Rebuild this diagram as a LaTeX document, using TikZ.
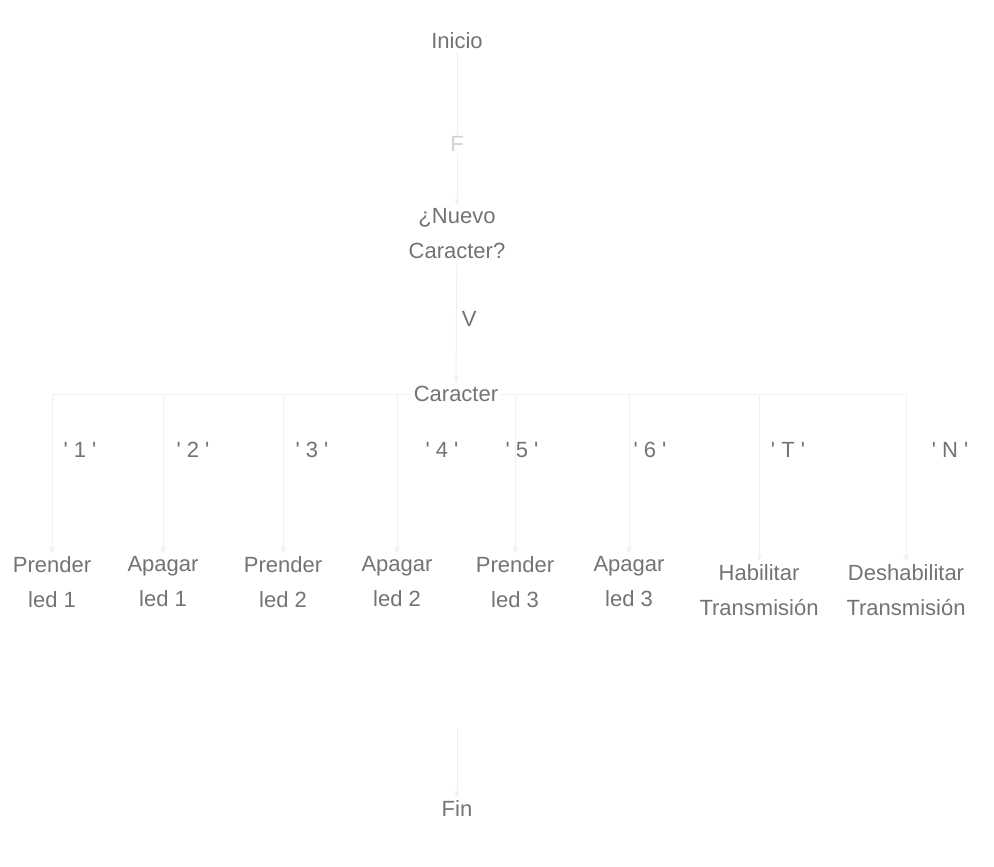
\documentclass[tikz,border=0pt]{standalone}
\usepackage{fontspec}
\setmainfont{Liberation Sans}
\usetikzlibrary{arrows.meta}
\newcommand{\caso}[1]{\textquotesingle\ #1\ \textquotesingle}

\begin{document}
\begin{tikzpicture}[x=1pt, y=-1pt,
  every node/.style={font=\fontsize{22}{35}\selectfont, text=black!55, inner sep=3pt, align=center},
  flecha/.style={draw=black!6, line width=1pt, -{Stealth[length=7pt]}},
  tenue/.style={text=black!18}]
  \useasboundingbox (0,0) rectangle (994,867);
  \node (inicio) at (457,41) {Inicio};
  \node (nuevo) at (457,234) {¿Nuevo\\Caracter?};
  \node (car) at (456,394) {Caracter};
  \node (a1) at (52,582) {Prender\\led 1};
  \node (a2) at (163,582) {Apagar\\led 1};
  \node (a3) at (283,582) {Prender\\led 2};
  \node (a4) at (397,582) {Apagar\\led 2};
  \node (a5) at (515,582) {Prender\\led 3};
  \node (a6) at (629,582) {Apagar\\led 3};
  \node (a7) at (759,590) {Habilitar\\Transmisión};
  \node (a8) at (906,590) {Deshabilitar\\Transmisión};
  \node (fin) at (457,809) {Fin};
  \coordinate (junta) at (457,728);
  % etiquetas de los casos
  \node (c1) at (80,450) {\caso{1}};
  \node (c2) at (193,450) {\caso{2}};
  \node (c3) at (312,450) {\caso{3}};
  \node (c4) at (442,450) {\caso{4}};
  \node (c5) at (522,450) {\caso{5}};
  \node (c6) at (650,450) {\caso{6}};
  \node (c7) at (788,450) {\caso{T}};
  \node (c8) at (950,450) {\caso{N}};
  \draw[flecha] (inicio) -- node[pos=0.6, tenue, fill=white, inner sep=1pt] {F} (nuevo);
  \draw[flecha] (nuevo) -- node[pos=0.47, right=2pt] {V} (car);
  \draw[flecha] (car.west) -| (a1);
  \draw[flecha] (car.west) -| (a2);
  \draw[flecha] (car.west) -| (a3);
  \draw[flecha] (car.west) -| (a4);
  \draw[flecha] (car.east) -| (a5);
  \draw[flecha] (car.east) -| (a6);
  \draw[flecha] (car.east) -| (a7);
  \draw[flecha] (car.east) -| (a8);
  \draw[flecha] (junta) -- (fin);
\end{tikzpicture}
\end{document}
